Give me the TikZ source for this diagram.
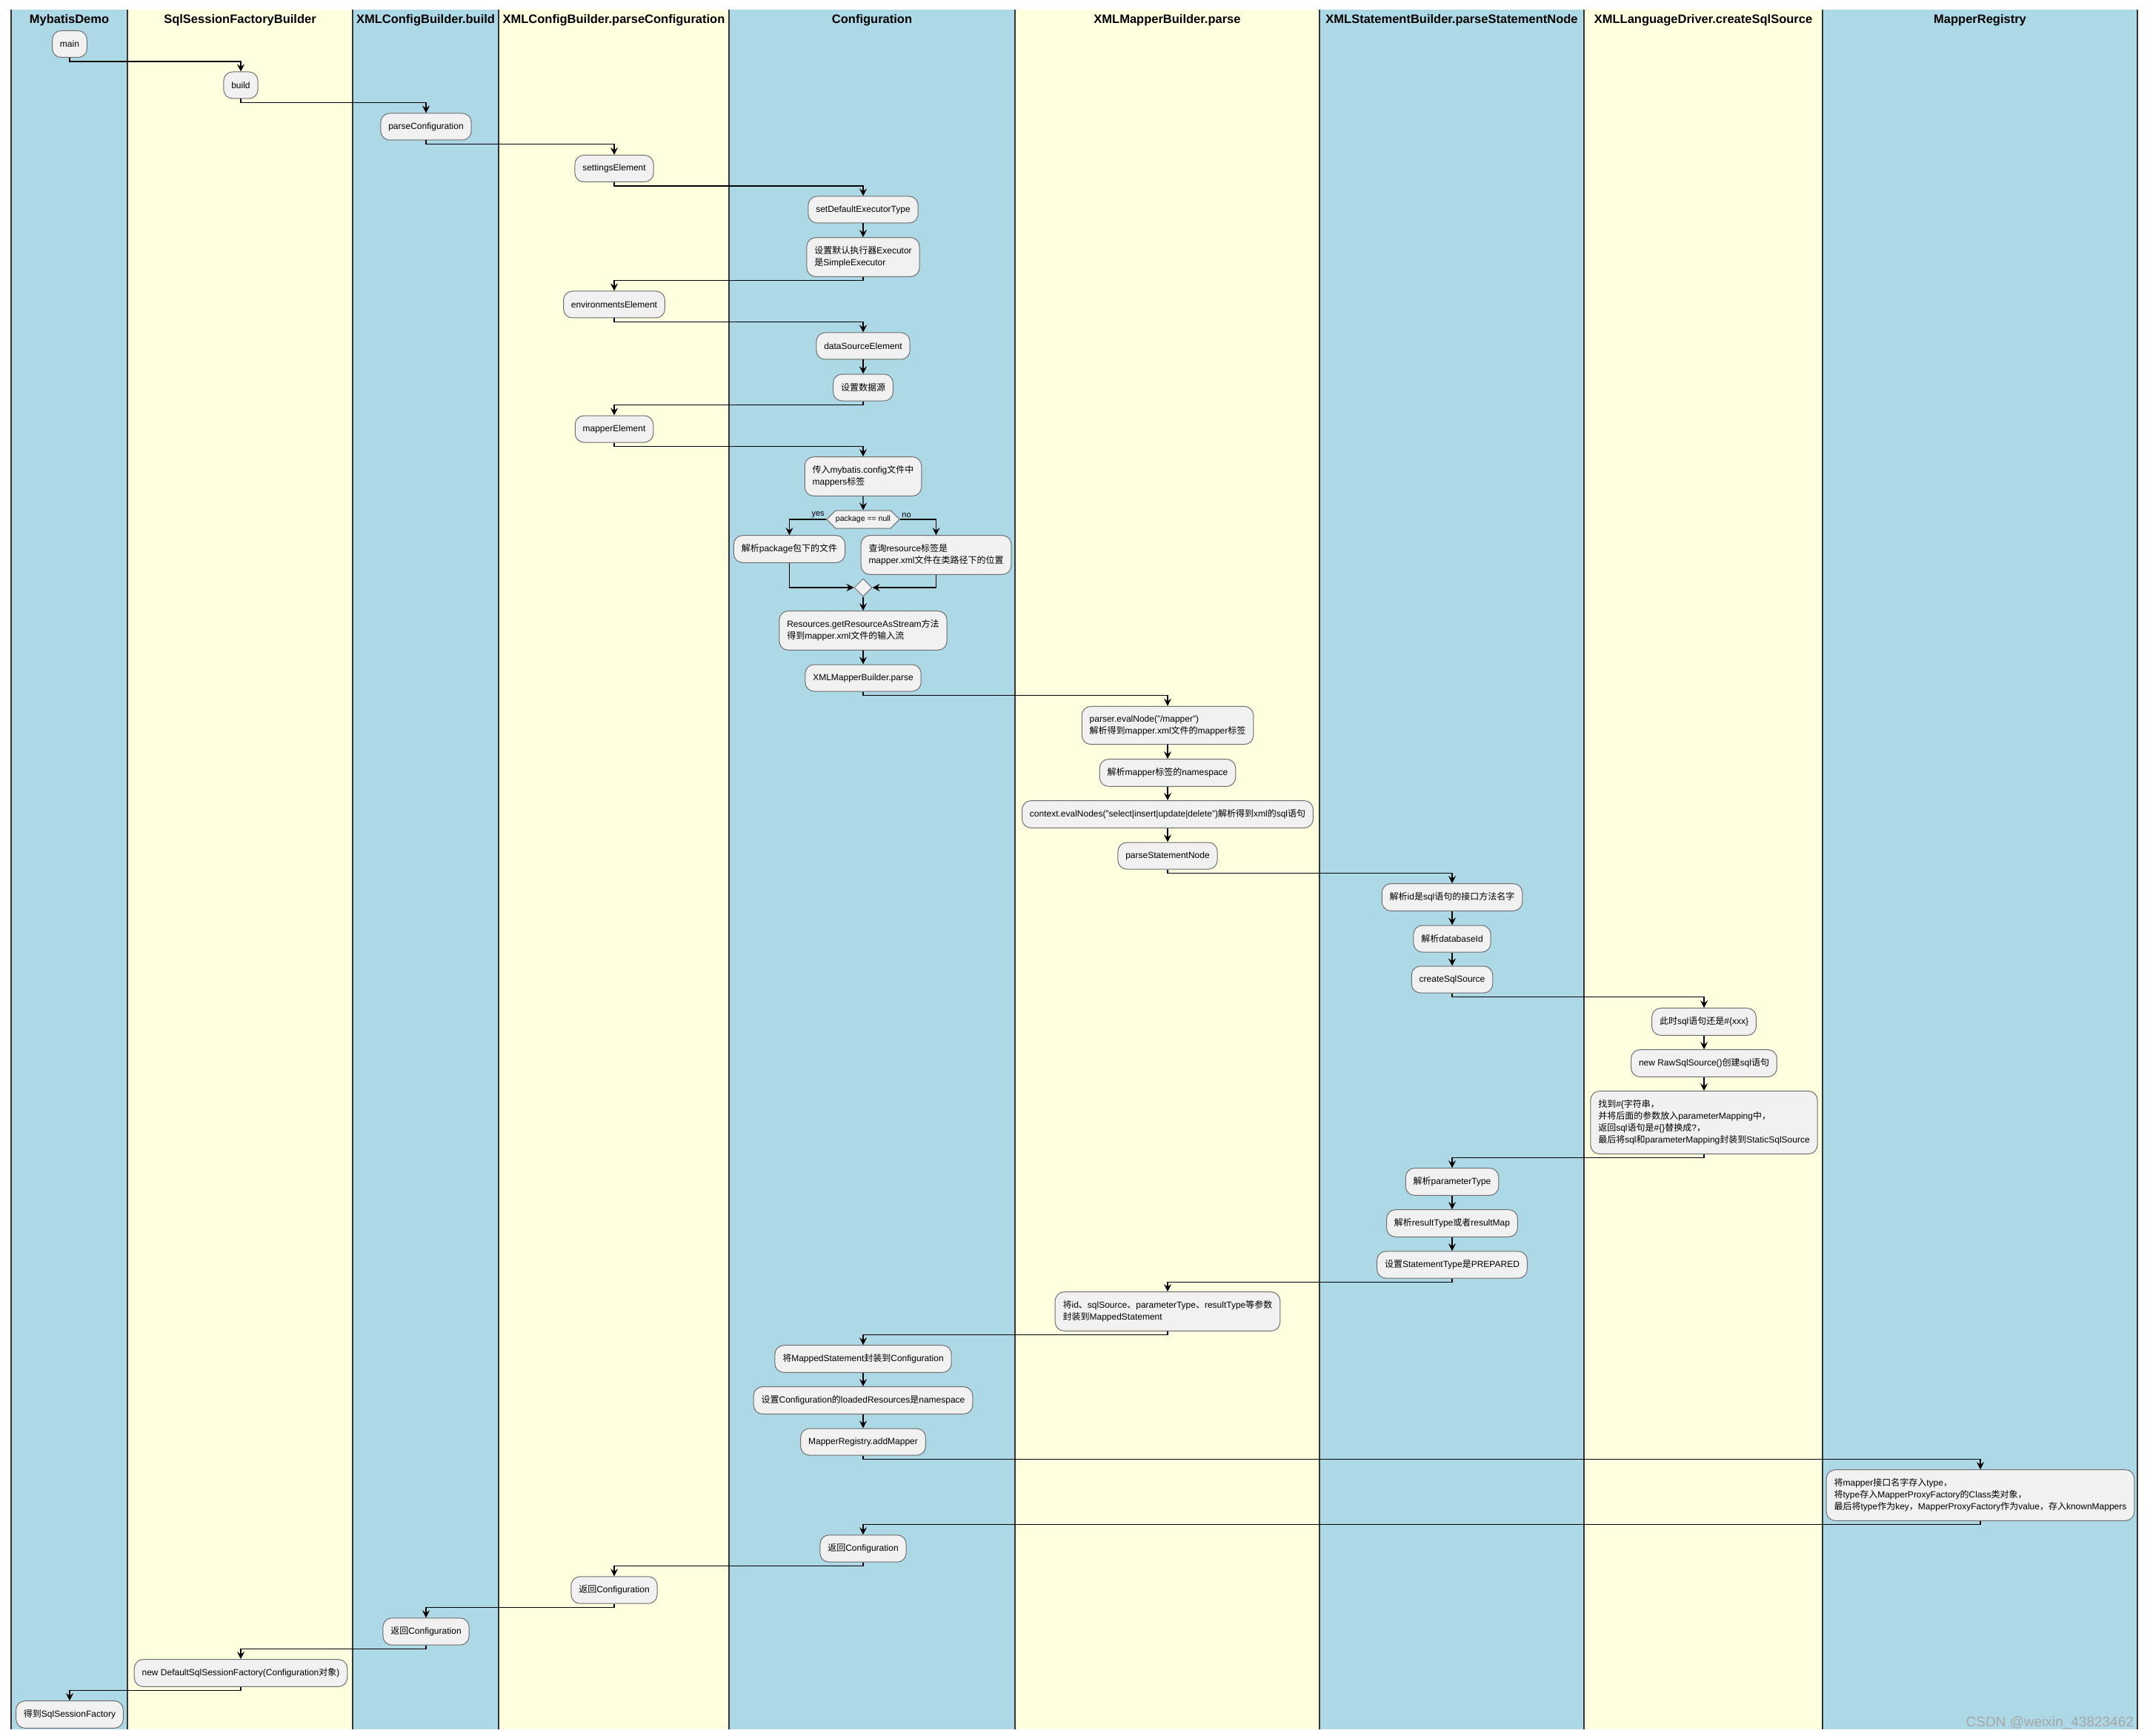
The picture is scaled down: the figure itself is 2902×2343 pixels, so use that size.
\documentclass[tikz,border=0pt]{standalone}
\usepackage{fontspec}
\setmainfont{Liberation Sans}
\newfontfamily\cjkfont{Noto Sans CJK SC}
\usepackage{tikz}
\usetikzlibrary{shapes.geometric, shapes.symbols, arrows.meta}
\definecolor{laneBlue}{RGB}{173,216,230}
\definecolor{laneYellow}{RGB}{255,255,224}
\definecolor{actFill}{RGB}{241,241,241}
\definecolor{actLine}{RGB}{110,110,110}
\newcommand{\zh}[1]{{\cjkfont#1}}
\newcommand{\actfont}{\fontsize{6}{8}\selectfont}
\newcommand{\lanefont}{\fontsize{8.25}{10}\selectfont\bfseries}
\tikzset{
  act/.style={draw=actLine, fill=actFill, line width=0.5pt, rounded corners=6pt,
    inner xsep=5.2pt, inner ysep=6pt, minimum height=18pt, align=left, font=\actfont},
  flow/.style={draw=black, line width=0.6pt, -{Stealth[length=5pt, width=5pt, inset=1.8pt]}},
  decide/.style={signal, signal to=east and west, signal pointer angle=90, draw=actLine,
    fill=actFill, line width=0.5pt, minimum height=12pt, inner xsep=0pt, inner ysep=1pt,
    font=\fontsize{5.25}{6}\selectfont},
  merge/.style={diamond, draw=actLine, fill=actFill, line width=0.5pt, minimum width=12pt,
    minimum height=12pt, inner sep=0pt},
  branchlabel/.style={inner sep=1pt, font=\fontsize{5.5}{6}\selectfont},
  lanetitle/.style={font=\lanefont, inner sep=1pt},
  laneLine/.style={draw=black!80, line width=0.6pt}
}

\begin{document}
\begin{tikzpicture}[x=0.5pt, y=-0.5pt]
    \fill[white] (0,0) rectangle (2902,2343);
    \useasboundingbox (0,0) rectangle (2902,2343);

    \foreach \xa/\xb/\col in {15/172/laneBlue, 172/476/laneYellow, 476/673/laneBlue,
        673/984/laneYellow, 984/1370/laneBlue, 1370/1781/laneYellow,
        1781/2138/laneBlue, 2138/2460/laneYellow, 2460/2885/laneBlue}
      \fill[\col] (\xa,13) rectangle (\xb,2334);
    \foreach \x in {15,172,476,673,984,1370,1781,2138,2460,2885}
      \draw[laneLine] (\x,13) -- (\x,2334);

    \node[lanetitle] (hdDemo) at (93.5,27) {MybatisDemo};
    \node[lanetitle] (hdFactory) at (324,27) {SqlSessionFactoryBuilder};
    \node[lanetitle] (hdBuild) at (574.5,27) {XMLConfigBuilder.build};
    \node[lanetitle] (hdParseCfg) at (828.5,27) {XMLConfigBuilder.parseConfiguration};
    \node[lanetitle] (hdConfig) at (1177,27) {Configuration};
    \node[lanetitle] (hdMapper) at (1575.5,27) {XMLMapperBuilder.parse};
    \node[lanetitle] (hdStatement) at (1959.5,27) {XMLStatementBuilder.parseStatementNode};
    \node[lanetitle] (hdDriver) at (2299,27) {XMLLanguageDriver.createSqlSource};
    \node[lanetitle] (hdRegistry) at (2672.5,27) {MapperRegistry};

    \node[act] (main) at (94,59.5) {main};
    \node[act] (build) at (325,115) {build};
    \node[act] (parseCfg) at (575,171) {parseConfiguration};
    \node[act] (settings) at (829,227.5) {settingsElement};
    \node[act] (setExec) at (1165,283) {setDefaultExecutorType};
    \node[act] (defaultExec) at (1165,347) {\zh{设置默认执行器}Executor\\\zh{是}SimpleExecutor};
    \node[act] (envElem) at (829,411) {environmentsElement};
    \node[act] (dsElem) at (1165,467) {dataSourceElement};
    \node[act] (setDs) at (1165,523) {\zh{设置数据源}};
    \node[act] (mapperElem) at (829,579) {mapperElement};
    \node[act] (mappersTag) at (1165,643) {\zh{传入}mybatis.config\zh{文件中}\\mappers\zh{标签}};
    \node[decide] (pkgNull) at (1165,701) {package == null};
    \node[act] (pkgScan) at (1065.5,741) {\zh{解析}package\zh{包下的文件}};
    \node[act] (resScan) at (1263.5,749) {\zh{查询}resource\zh{标签是}\\mapper.xml\zh{文件在类路径下的位置}};
    \node[merge] (mergeA) at (1165,793) {};
    \node[act] (getStream) at (1165,851) {Resources.getResourceAsStream\zh{方法}\\\zh{得到}mapper.xml\zh{文件的输入流}};
    \node[act] (mapperParse) at (1165,915) {XMLMapperBuilder.parse};
    \node[act] (evalMapper) at (1576,979) {parser.evalNode("/mapper")\\\zh{解析得到}mapper.xml\zh{文件的}mapper\zh{标签}};
    \node[act] (nsParse) at (1576,1043) {\zh{解析}mapper\zh{标签的}namespace};
    \node[act] (evalNodes) at (1576,1099) {context.evalNodes("select|insert|update|delete")\zh{解析得到}xml\zh{的}sql\zh{语句}};
    \node[act] (stmtNode) at (1576,1155) {parseStatementNode};
    \node[act] (idParse) at (1960,1211) {\zh{解析}id\zh{是}sql\zh{语句的接口方法名字}};
    \node[act] (dbIdParse) at (1960,1267) {\zh{解析}databaseId};
    \node[act] (createSrc) at (1960,1322) {createSqlSource};
    \node[act] (rawCheck) at (2300,1379) {\zh{此时}sql\zh{语句还是}\#\{xxx\}};
    \node[act] (rawSrc) at (2300,1435) {new RawSqlSource()\zh{创建}sql\zh{语句}};
    \node[act] (staticSrc) at (2300,1515) {\zh{找到}\#\{\zh{字符串，}\\\zh{并将后面的参数放入}parameterMapping\zh{中，}\\\zh{返回}sql\zh{语句是}\#\{\}\zh{替换成}?\zh{，}\\\zh{最后将}sql\zh{和}parameterMapping\zh{封装到}StaticSqlSource};
    \node[act] (paramType) at (1960,1595) {\zh{解析}parameterType};
    \node[act] (resultType) at (1960,1651) {\zh{解析}resultType\zh{或者}resultMap};
    \node[act] (stmtType) at (1960,1707) {\zh{设置}StatementType\zh{是}PREPARED};
    \node[act] (buildMs) at (1576,1770) {\zh{将}id\zh{、}sqlSource\zh{、}parameterType\zh{、}resultType\zh{等参数}\\\zh{封装到}MappedStatement};
    \node[act] (addMs) at (1165,1834) {\zh{将}MappedStatement\zh{封装到}Configuration};
    \node[act] (loadedRes) at (1165,1890) {\zh{设置}Configuration\zh{的}loadedResources\zh{是}namespace};
    \node[act] (addMapper) at (1165,1946) {MapperRegistry.addMapper};
    \node[act] (knownMappers) at (2673,2018) {\zh{将}mapper\zh{接口名字存入}type\zh{，}\\\zh{将}type\zh{存入}MapperProxyFactory\zh{的}Class\zh{类对象，}\\\zh{最后将}type\zh{作为}key\zh{，}MapperProxyFactory\zh{作为}value\zh{，存入}knownMappers};
    \node[act] (retCfgA) at (1165,2090) {\zh{返回}Configuration};
    \node[act] (retCfgB) at (829,2146) {\zh{返回}Configuration};
    \node[act] (retCfgC) at (575,2202) {\zh{返回}Configuration};
    \node[act] (newFactory) at (325,2258) {new DefaultSqlSessionFactory(Configuration\zh{对象})};
    \node[act] (gotFactory) at (94,2314) {\zh{得到}SqlSessionFactory};

    \draw[flow] (main.south) -- ++(0,5) -| (build.north);
    \draw[flow] (build.south) -- ++(0,5) -| (parseCfg.north);
    \draw[flow] (parseCfg.south) -- ++(0,5) -| (settings.north);
    \draw[flow] (settings.south) -- ++(0,5) -| (setExec.north);
    \draw[flow] (setExec) -- (defaultExec);
    \draw[flow] (defaultExec.south) -- ++(0,5) -| (envElem.north);
    \draw[flow] (envElem.south) -- ++(0,5) -| (dsElem.north);
    \draw[flow] (dsElem) -- (setDs);
    \draw[flow] (setDs.south) -- ++(0,5) -| (mapperElem.north);
    \draw[flow] (mapperElem.south) -- ++(0,5) -| (mappersTag.north);
    \draw[flow] (mappersTag) -- (pkgNull);
    \draw[flow] (pkgNull.west) node[branchlabel, anchor=south east] {yes} -| (pkgScan.north);
    \draw[flow] (pkgNull.east) node[branchlabel, anchor=south west] {no} -| (resScan.north);
    \draw[flow] (pkgScan.south) |- (mergeA.west);
    \draw[flow] (resScan.south) |- (mergeA.east);
    \draw[flow] (mergeA) -- (getStream);
    \draw[flow] (getStream) -- (mapperParse);
    \draw[flow] (mapperParse.south) -- ++(0,5) -| (evalMapper.north);
    \draw[flow] (evalMapper) -- (nsParse);
    \draw[flow] (nsParse) -- (evalNodes);
    \draw[flow] (evalNodes) -- (stmtNode);
    \draw[flow] (stmtNode.south) -- ++(0,5) -| (idParse.north);
    \draw[flow] (idParse) -- (dbIdParse);
    \draw[flow] (dbIdParse) -- (createSrc);
    \draw[flow] (createSrc.south) -- ++(0,5) -| (rawCheck.north);
    \draw[flow] (rawCheck) -- (rawSrc);
    \draw[flow] (rawSrc) -- (staticSrc);
    \draw[flow] (staticSrc.south) -- ++(0,5) -| (paramType.north);
    \draw[flow] (paramType) -- (resultType);
    \draw[flow] (resultType) -- (stmtType);
    \draw[flow] (stmtType.south) -- ++(0,5) -| (buildMs.north);
    \draw[flow] (buildMs.south) -- ++(0,5) -| (addMs.north);
    \draw[flow] (addMs) -- (loadedRes);
    \draw[flow] (loadedRes) -- (addMapper);
    \draw[flow] (addMapper.south) -- ++(0,5) -| (knownMappers.north);
    \draw[flow] (knownMappers.south) -- ++(0,5) -| (retCfgA.north);
    \draw[flow] (retCfgA.south) -- ++(0,5) -| (retCfgB.north);
    \draw[flow] (retCfgB.south) -- ++(0,5) -| (retCfgC.north);
    \draw[flow] (retCfgC.south) -- ++(0,5) -| (newFactory.north);
    \draw[flow] (newFactory.south) -- ++(0,5) -| (gotFactory.north);

    \node[anchor=east, text=black!35, font=\fontsize{9.5}{11}\selectfont] (mark) at (2887,2325) {CSDN @weixin\_43823462};
\end{tikzpicture}
\end{document}
